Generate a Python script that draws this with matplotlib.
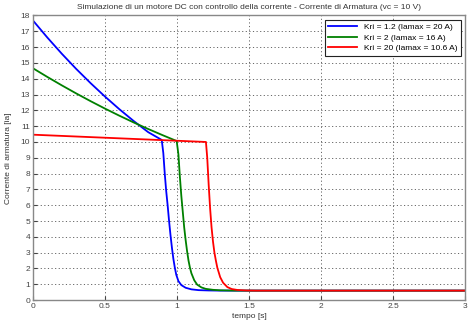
import numpy as np
import matplotlib
matplotlib.use("Agg")
import matplotlib.pyplot as plt

plt.rcParams['font.family'] = ['Liberation Sans', 'DejaVu Sans']

# armature current, sampled from the simulation runs (t in s, i in A)
t_kri12 = [0, 0, 0.1, 0.2, 0.3, 0.4, 0.5, 0.6, 0.7, 0.8, 0.894,
           0.905, 0.915, 0.925, 0.935, 0.945, 0.955, 0.965, 0.975, 0.985, 0.995,
           1.01, 1.03, 1.06, 1.1, 1.15, 1.22, 1.3, 3.0]
i_kri12 = [0, 17.68, 16.6, 15.58, 14.62, 13.72, 12.87, 12.07, 11.32, 10.62, 10.13,
           9.3, 8.0, 6.9, 6.0, 5.0, 4.1, 3.3, 2.6, 2.05, 1.6,
           1.2, 0.95, 0.78, 0.68, 0.63, 0.61, 0.6, 0.6]

t_kri2 = [0, 0, 0.1, 0.2, 0.3, 0.4, 0.5, 0.6, 0.7, 0.8, 0.9, 0.998,
          1.01, 1.02, 1.03, 1.04, 1.05, 1.06, 1.07, 1.08, 1.09, 1.1,
          1.12, 1.14, 1.17, 1.2, 1.25, 1.3, 1.4, 3.0]
i_kri2 = [0, 14.66, 14.11, 13.58, 13.07, 12.58, 12.11, 11.66, 11.23, 10.82, 10.43, 10.06,
          9.2, 7.8, 6.6, 5.6, 4.6, 3.8, 3.1, 2.5, 2.05, 1.7,
          1.25, 0.98, 0.8, 0.71, 0.65, 0.62, 0.6, 0.6]

t_kri20 = [0, 0, 0.6, 1.201, 1.21, 1.22, 1.23, 1.24, 1.25, 1.26, 1.27, 1.28,
           1.3, 1.32, 1.35, 1.38, 1.42, 1.48, 1.55, 3.0]
i_kri20 = [0, 10.46, 10.23, 10.0, 9.0, 7.3, 5.8, 4.6, 3.7, 3.0, 2.5, 2.05,
           1.45, 1.1, 0.82, 0.7, 0.64, 0.61, 0.6, 0.6]

labels = ['Kri = 1.2 (Iamax = 20 A)',
          'Kri = 2 (Iamax = 16 A)',
          'Kri = 20 (Iamax = 10.6 A)']

fig = plt.figure(figsize=(4.74, 3.22), dpi=100)
ax = fig.add_axes([0.0696, 0.068, 0.9114, 0.884])

ax.plot(t_kri12, i_kri12, color='#0000ff', lw=1.3, label=labels[0])
ax.plot(t_kri2, i_kri2, color='#008000', lw=1.3, label=labels[1])
ax.plot(t_kri20, i_kri20, color='#ff0000', lw=1.3, label=labels[2])

ax.set_xlim(0, 3)
ax.set_ylim(0, 18)
ax.set_xticks(np.arange(0, 3.01, 0.5))
ax.set_xticklabels(['0', '0.5', '1', '1.5', '2', '2.5', '3'])
ax.set_yticks(np.arange(0, 19, 1))
ax.grid(True, linestyle=(0, (1.2, 2.5)), color='#666666', lw=0.7)
ax.tick_params(labelsize=6, colors='#444444', length=3, direction='in', pad=2)
for sp in ax.spines.values():
    sp.set_color('#888888')
    sp.set_linewidth(1.0)

ax.set_title('Simulazione di un motore DC con controllo della corrente - Corrente di Armatura (vc = 10 V)',
             fontsize=6, color='#333333', pad=5)
ax.set_xlabel('tempo [s]', fontsize=6, color='#333333', labelpad=2)
ax.set_ylabel('Corrente di armatura [ia]', fontsize=6, color='#333333', labelpad=6)

leg = ax.legend(loc='upper right', fontsize=6, fancybox=False, framealpha=1,
                edgecolor='#222222', handlelength=3.5, borderpad=0.4,
                labelspacing=0.35, borderaxespad=0.5)
leg.get_frame().set_linewidth(0.8)

fig.savefig('out.png', dpi=100)
